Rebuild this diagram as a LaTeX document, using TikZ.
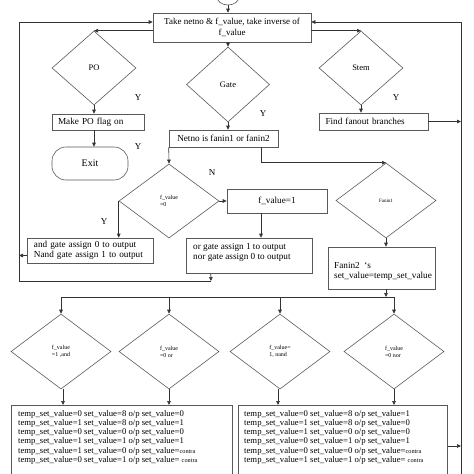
\documentclass[tikz,border=0pt]{standalone}
\usepackage{fontspec}
\setmainfont{Liberation Serif}
\usetikzlibrary{shapes.geometric,arrows.meta}
\begin{document}
\begin{tikzpicture}[x=1pt,y=-1pt,
  line/.style={draw=black!80, line width=0.6pt},
  arr/.style={line, -{Triangle[length=4pt,width=3.6pt]}},
  box/.style={draw=black!65, line width=0.6pt, rectangle, inner sep=0pt, font=\fontsize{9.2}{10}\selectfont},
  dia/.style={draw=black!65, line width=0.6pt, diamond, inner sep=0pt, minimum width=100pt, minimum height=75pt},
  tiny/.style={font=\fontsize{6}{7}\selectfont, align=left},
  lbl/.style={font=\fontsize{9}{9}\selectfont, inner sep=0pt},
  txt/.style={font=\fontsize{9.2}{10.5}\selectfont, inner sep=0pt, align=left}]
\useasboundingbox (0,0) rectangle (474,474);
\clip (0,0) rectangle (474,474);

% start oval
\node[draw=black!65, line width=0.6pt, ellipse, minimum width=22pt, minimum height=16pt, inner sep=0pt] (start) at (228,-3) {};
% main box
\node[box, minimum width=158pt, minimum height=29pt, align=center, font=\fontsize{9}{10.5}\selectfont] (main) at (232,27.5) {Take netno \& f\_value, take inverse of\\f\_value};

% diamonds row 1
\node[dia, minimum width=84pt, minimum height=74pt, font=\fontsize{8.5}{9}\selectfont] (po) at (94,68) {PO};
\node[dia, minimum width=83pt, minimum height=75pt, font=\fontsize{8.5}{9}\selectfont] (gate) at (228,84.5) {Gate};
\node[dia, minimum width=84pt, minimum height=74pt, font=\fontsize{8.5}{9}\selectfont] (stem) at (361,68) {Stem};

\node[box, minimum width=92pt, minimum height=16pt, text width=80pt, align=left] (make) at (98,122) {Make PO flag on};
\node[draw=black!65, line width=0.6pt, rounded corners=14pt, minimum width=76pt, minimum height=33pt, inner sep=0pt, font=\fontsize{10}{10}\selectfont] (exit) at (90,163.5) {Exit};
\node[box, minimum width=109pt, minimum height=17pt, align=center] (netno) at (223.5,138.5) {Netno is fanin1 or fanin2};
\node[box, minimum width=109pt, minimum height=17pt, text width=96pt, align=left] (find) at (373.5,121.5) {Find fanout branches};

% second level
\node[dia, minimum width=100pt, minimum height=74pt, tiny] (fv) at (169,201) {f\_value\\=0};
\node[box, minimum width=100pt, minimum height=24pt, align=center] (fv1) at (277,201) {f\_value=1};
\node[dia, minimum width=100pt, minimum height=75pt, font=\fontsize{5}{5}\selectfont] (fanin1) at (386,200.5) {Fanin1};

\node[box, minimum width=126pt, minimum height=25pt, text width=112pt, align=left] (andbox) at (90,250.5) {and gate assign 0 to output\\Nand gate assign 1 to output};
\node[box, minimum width=126pt, minimum height=35pt] (orbox) at (249,255.5) {};
\node[txt, anchor=west] (ortext) at (193,252.5) {or gate assign 1 to output\\nor gate assign 0 to output};
\node[box, minimum width=107pt, minimum height=42pt] (fanin2) at (381.5,268) {};
\node[txt, anchor=west] (f2text) at (334,271.5) {Fanin2\ \ ‘s\\set\_value=temp\_set\_value};

% bottom diamonds
\node[dia, tiny] (d1) at (61,351.5) {f\_value\\=1 ,and};
\node[dia, tiny] (d2) at (169,351.5) {f\_value\\=0 or};
\node[dia, tiny] (d3) at (280,351.5) {f\_value=\\1, nand};
\node[dia, tiny] (d4) at (394,351.5) {f\_value\\=0 nor};

% bottom boxes
\node[box, minimum width=221pt, minimum height=80pt, anchor=north west] (lbox) at (11,405) {};
\node[box, minimum width=209pt, minimum height=80pt, anchor=north west] (rbox) at (238,405) {};
\node[txt, anchor=north west, font=\fontsize{8.7}{9.2}\selectfont] (ltext) at (18,410) {%
temp\_set\_value=0 set\_value=8 o/p set\_value=0\\
temp\_set\_value=1 set\_value=8 o/p set\_value=1\\
temp\_set\_value=0 set\_value=0 o/p set\_value=0\\
temp\_set\_value=1 set\_value=1 o/p set\_value=1\\
temp\_set\_value=1 set\_value=0 o/p set\_value={\fontsize{6.3}{6}\selectfont contra}\\
temp\_set\_value=0 set\_value=1 o/p set\_value= {\fontsize{6.3}{6}\selectfont contra}};
\node[txt, anchor=north west, font=\fontsize{8.7}{9.2}\selectfont] (rtext) at (244,410) {%
temp\_set\_value=0 set\_value=8 o/p set\_value=1\\
temp\_set\_value=1 set\_value=8 o/p set\_value=0\\
temp\_set\_value=1 set\_value=0 o/p set\_value=0\\
temp\_set\_value=0 set\_value=1 o/p set\_value=1\\
temp\_set\_value=0 set\_value=0 o/p set\_value={\fontsize{6.3}{6}\selectfont contra}\\
temp\_set\_value=1 set\_value=1 o/p set\_value= {\fontsize{6.3}{6}\selectfont contra}};

% labels
\node[lbl] (y1) at (138,98) {Y};
\node[lbl] (y2) at (263,114) {Y};
\node[lbl] (y3) at (396,98) {Y};
\node[lbl] (y4) at (138,147) {Y};
\node[lbl] (y5) at (104,222) {Y};
\node[lbl] (n1) at (212,173) {N};

% coordinates for loops
\coordinate (lt) at (19,22);
\coordinate (lb) at (19,281);
\coordinate (orjoin) at (211,281);
\coordinate (rt) at (461,22);
\coordinate (rb) at (461,480);
\coordinate (bus) at (0,297);

% connectors
\draw[arr] (start.south) -- (start.south |- main.north);
\draw[arr] (main.west |- po.north) -- (po.north);
\draw[arr] (main.east |- stem.north) -- (stem.north);
\draw[arr] (gate.north |- main.south) -- (gate.north);
\draw[arr] (po.south) -- (po.south |- make.north);
\draw[arr] (po.south |- make.south) -- (po.south |- exit.north);
\draw[arr] (gate.south) -- (gate.south |- netno.north);
\draw[arr] (stem.south) -- (stem.south |- find.north);
\draw[arr] (find.east) -- (find.east -| rt);
\draw[arr] (netno.south west) -- (fv.north);
\draw[arr] ([xshift=-17pt]netno.south east) |- (fanin1.north);
\draw[arr] (fv.east) -- (fv1.west);
\draw[arr] (fv.west) -- (fv.west |- andbox.north);
\draw[arr] ([xshift=-16pt]fv1.south) -- ([xshift=-16pt]fv1.south |- orbox.north);
\draw[arr] (fanin1.south) -- (fanin1.south |- fanin2.north);
\draw[arr] (fanin1.south |- fanin2.south) -- (fanin1.south |- bus);

% left loop
\draw[arr] ([xshift=25pt]orbox.south west) -- (orjoin);
\draw[line] (orjoin) -- (lb) -- (lt);
\draw[arr] (lt) -- (main.west |- lt);
\draw[arr] ([yshift=-5pt]andbox.west) -- ([yshift=-5pt]andbox.west -| lb);

% right loop
\draw[line] (rb) -- (rt);
\draw[arr] (rt) -- (main.east |- rt);
\draw[arr] ([yshift=-41pt]rbox.north east) -- ([yshift=-41pt]rbox.north east -| rt);

% bus
\draw[line] (d1.north |- bus) -- (d4.north |- bus);
\draw[arr] (d1.north |- bus) -- (d1.north);
\draw[arr] (d2.north |- bus) -- (d2.north);
\draw[arr] (d3.north |- bus) -- (d3.north);
\draw[arr] (d4.north |- bus) -- (d4.north);

\draw[arr] ([xshift=2pt]d1.south) -- ([xshift=2pt]d1.south |- lbox.north);
\draw[arr] (d2.south) -- (d2.south |- lbox.north);
\draw[arr] ([xshift=-2pt]d3.south) -- ([xshift=-2pt]d3.south |- rbox.north);
\draw[arr] (d4.south) -- (d4.south |- rbox.north);
\end{tikzpicture}
\end{document}
